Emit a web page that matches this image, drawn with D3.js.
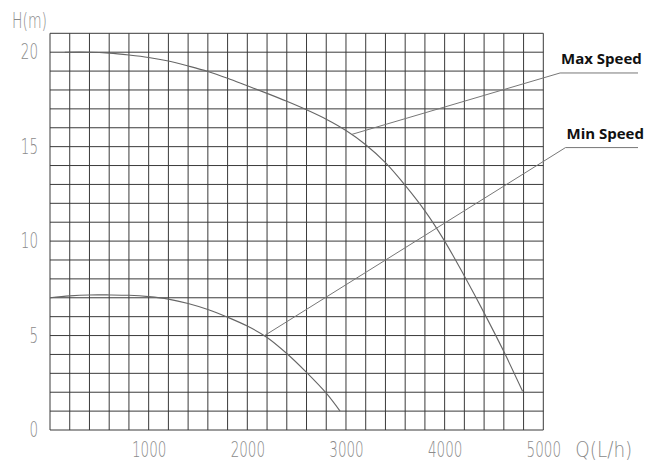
<!DOCTYPE html>
<html>
<head>
<meta charset="utf-8">
<script src="https://cdn.jsdelivr.net/npm/d3@7"></script>
<style>
  html, body { margin: 0; padding: 0; background: #fff; }
  svg { display: block; }
  .tick text, .unit { font-family: "DejaVu Sans", sans-serif; font-weight: 200; font-size: 21px; fill: #8a8a8a; }
  .lbl { font-family: "Open Sans", sans-serif; font-weight: bold; font-size: 15px; fill: #111; }
</style>
</head>
<body>
<svg id="chart" width="650" height="470"></svg>
<script>
// ---- data ----
const qTicks = [1000, 2000, 3000, 4000, 5000];
const hTicks = [0, 5, 10, 15, 20];
const gridQ = d3.range(0, 5001, 200);
const gridH = d3.range(0, 22, 1);

const maxSpeedQ = [150, 400, 600, 800, 1000, 1200, 1400, 1600, 1800, 2000, 2200, 2400, 2600, 2800, 3000, 3200, 3400, 3600, 3800, 4000, 4200, 4400, 4600, 4790];
const maxSpeedH = [20.0, 20.0, 19.95, 19.85, 19.72, 19.53, 19.27, 18.98, 18.62, 18.22, 17.82, 17.4, 16.95, 16.45, 15.85, 15.1, 14.15, 12.95, 11.6, 10.0, 8.15, 6.2, 4.15, 2.05];

const minSpeedQ = [0, 200, 400, 600, 800, 1000, 1200, 1400, 1600, 1800, 2000, 2200, 2400, 2600, 2800, 2940];
const minSpeedH = [7.0, 7.1, 7.15, 7.15, 7.13, 7.06, 6.93, 6.7, 6.38, 5.97, 5.5, 4.9, 4.05, 3.05, 1.95, 1.0];

const seriesNames = ["Max Speed", "Min Speed"];
const leaderQ = [[3060, 5170, 5960], [2175, 5225, 5960]];
const leaderH = [[15.65, 18.9, 18.9], [5.0, 14.95, 14.95]];

const yTitle = "H(m)";
const xTitle = "Q(L/h)";

// ---- chart ----
const svg = d3.select("#chart");
const x = d3.scaleLinear().domain([0, 5000]).range([50, 543.3]);
const y = d3.scaleLinear().domain([0, 21]).range([430, 33.3]);

const grid = svg.append("g").attr("stroke", "#3a3a3a").attr("stroke-width", 1).attr("fill", "none");
grid.selectAll("line.v").data(gridQ).join("line").attr("class", "v")
  .attr("x1", d => x(d)).attr("x2", d => x(d)).attr("y1", y(0)).attr("y2", y(21));
grid.selectAll("line.h").data(gridH).join("line").attr("class", "h")
  .attr("x1", x(0)).attr("x2", x(5000)).attr("y1", d => y(d)).attr("y2", d => y(d));

const line = d3.line().x(d => x(d[0])).y(d => y(d[1])).curve(d3.curveCatmullRom.alpha(0.5));
const curves = [d3.zip(maxSpeedQ, maxSpeedH), d3.zip(minSpeedQ, minSpeedH)];
svg.append("g").selectAll("path").data(curves).join("path")
  .attr("d", line).attr("fill", "none").attr("stroke", "#666").attr("stroke-width", 1.1);

const leaderLine = d3.line().x(d => x(d[0])).y(d => y(d[1]));
const leaders = leaderQ.map((q, i) => d3.zip(q, leaderH[i]));
svg.append("g").selectAll("path").data(leaders).join("path")
  .attr("d", leaderLine).attr("fill", "none").attr("stroke", "#777").attr("stroke-width", 1);

svg.append("g").selectAll("text").data(seriesNames).join("text")
  .attr("class", "lbl")
  .attr("x", (d, i) => x(leaderQ[i][1]) + 1)
  .attr("y", (d, i) => y(leaderH[i][1]) - 9)
  .text(d => d);

// axes
const yAxis = svg.append("g").attr("transform", `translate(${x(0)},0)`)
  .call(d3.axisLeft(y).tickValues(hTicks).tickSize(0).tickPadding(12).tickFormat(d3.format("d")));
yAxis.select(".domain").remove();

const xAxis = svg.append("g").attr("transform", `translate(0,${y(0)})`)
  .call(d3.axisBottom(x).tickValues(qTicks).tickSize(0).tickPadding(12).tickFormat(d3.format("d")));
xAxis.select(".domain").remove();

// narrow the CAD-like lettering
svg.selectAll(".tick text").each(function () {
  const t = d3.select(this);
  t.attr("textLength", t.text().length * 8.6).attr("lengthAdjust", "spacingAndGlyphs");
});

svg.append("text").attr("class", "unit").attr("x", 12).attr("y", 28)
  .attr("textLength", 35).attr("lengthAdjust", "spacingAndGlyphs").text(yTitle);
svg.append("text").attr("class", "unit").attr("x", x(5000) + 32).attr("y", y(0) + 27)
  .attr("textLength", 57).attr("lengthAdjust", "spacingAndGlyphs").text(xTitle);
</script>
</body>
</html>
